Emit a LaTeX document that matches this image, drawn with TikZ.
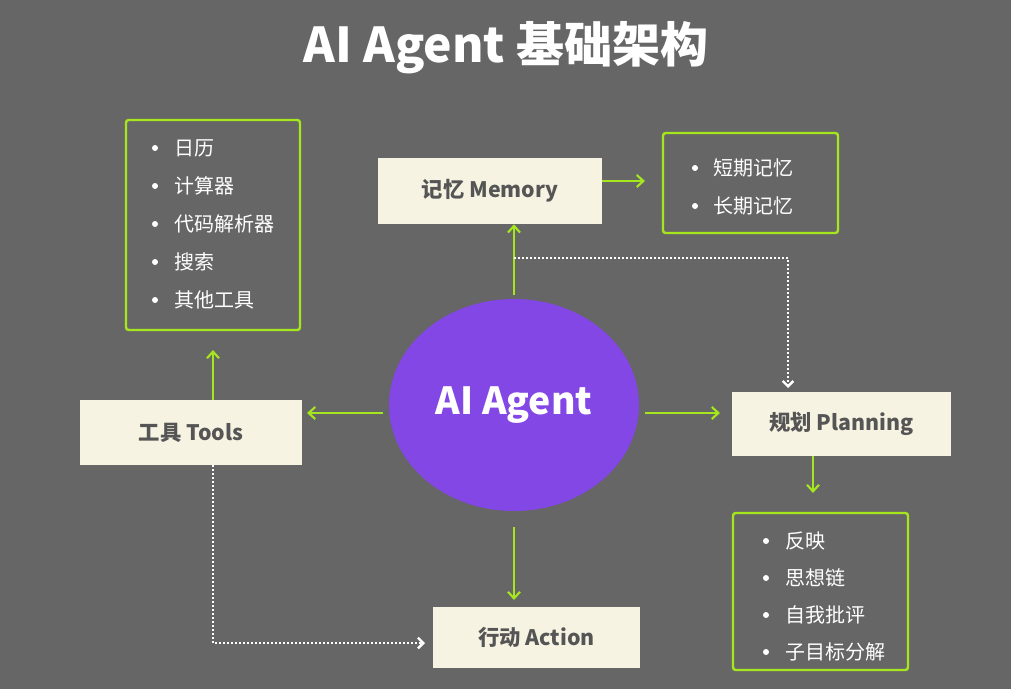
\documentclass[tikz,border=0pt]{standalone}
\usepackage{fontspec}
\setmainfont{Noto Sans CJK SC}
\usetikzlibrary{arrows.meta,shapes.geometric}
\definecolor{bg}{HTML}{666666}
\definecolor{lime}{HTML}{A6E61E}
\definecolor{beige}{HTML}{F6F3E3}
\definecolor{txt}{HTML}{555555}
\definecolor{purp}{HTML}{8247E5}
\begin{document}
\begin{tikzpicture}[x=0.75pt,y=-0.75pt,
  box/.style={draw=none,fill=beige,text=txt,font=\fontsize{16}{18}\selectfont\bfseries,inner sep=0pt},
  lst/.style={draw=lime,line width=1.8pt,rounded corners=2pt,inner sep=0pt},
  item/.style={text=white,font=\fontsize{15}{17}\selectfont,anchor=west,inner sep=0pt},
  arr/.style={draw=lime,line width=1.6pt,-{Straight Barb[length=5pt,width=9pt]}},
  dot/.style={draw=white,line width=1.8pt,dash pattern=on 1.2pt off 1.8pt,-{Straight Barb[length=4pt,width=8pt]}}]
\fill[bg] (0,0) rectangle (1011,689);
\node[text=white,font=\fontsize{36}{40}\selectfont\bfseries] (title) at (506,48) {AI Agent 基础架构};
% tools list
\node[lst,minimum width=0.75*174pt,minimum height=0.75*210pt] (tl) at (213,225) {};
\foreach \t [count=\i] in {日历,计算器,代码解析器,搜索,其他工具}{
  \fill[white] (155,110+38*\i) circle (3);
  \node[item] (tl\i) at (174,110+38*\i) {\t};}
% memory
\node[box,minimum width=0.75*224pt,minimum height=0.75*66pt] (mem) at (490,191) {记忆 Memory};
\node[lst,minimum width=0.75*175pt,minimum height=0.75*100pt] (ml) at (750.5,183) {};
\foreach \t [count=\i] in {短期记忆,长期记忆}{
  \fill[white] (695,130+38*\i) circle (3);
  \node[item] (ml\i) at (713,130+38*\i) {\t};}
% agent
\node[ellipse,fill=purp,inner sep=0pt,minimum width=0.75*250pt,minimum height=0.75*212pt,text=white,font=\fontsize{28}{30}\selectfont\bfseries] (ag) at (514,405) {AI Agent};
% tools
\node[box,minimum width=0.75*222pt,minimum height=0.75*65pt] (tools) at (191,432.5) {工具 Tools};
% planning
\node[box,minimum width=0.75*219pt,minimum height=0.75*64pt] (plan) at (841.5,424) {规划 Planning};
\node[lst,minimum width=0.75*175pt,minimum height=0.75*157pt] (pl) at (820.5,591.5) {};
\foreach \t [count=\i] in {反映,思想链,自我批评,子目标分解}{
  \fill[white] (766,504+37*\i) circle (3);
  \node[item] (pl\i) at (785,504+37*\i) {\t};}
% action
\node[box,minimum width=0.75*207pt,minimum height=0.75*61pt] (act) at (536.5,637.5) {行动 Action};
% arrows
\coordinate (a1) at (514,295); \coordinate (a2) at (383,413);
\coordinate (a3) at (645,413); \coordinate (a4) at (514,527);
\draw[arr] (a1) -- (mem.south -| a1);
\draw[arr] (mem.east |- 0,181) -- (645,181);
\draw[arr] (a2) -- (307,413);
\draw[arr] (a3) -- (720,413);
\draw[arr] (a4) -- (514,600);
\draw[arr] (tools.north -| 213,0) -- (213,350);
\draw[arr] (plan.south -| 813,0) -- (813,493);
\coordinate (d1) at (514,258);
\draw[dot] (d1) -| (788,388);
\draw[dot] (tools.south -| 213,0) |- (425,643);
\end{tikzpicture}
\end{document}
